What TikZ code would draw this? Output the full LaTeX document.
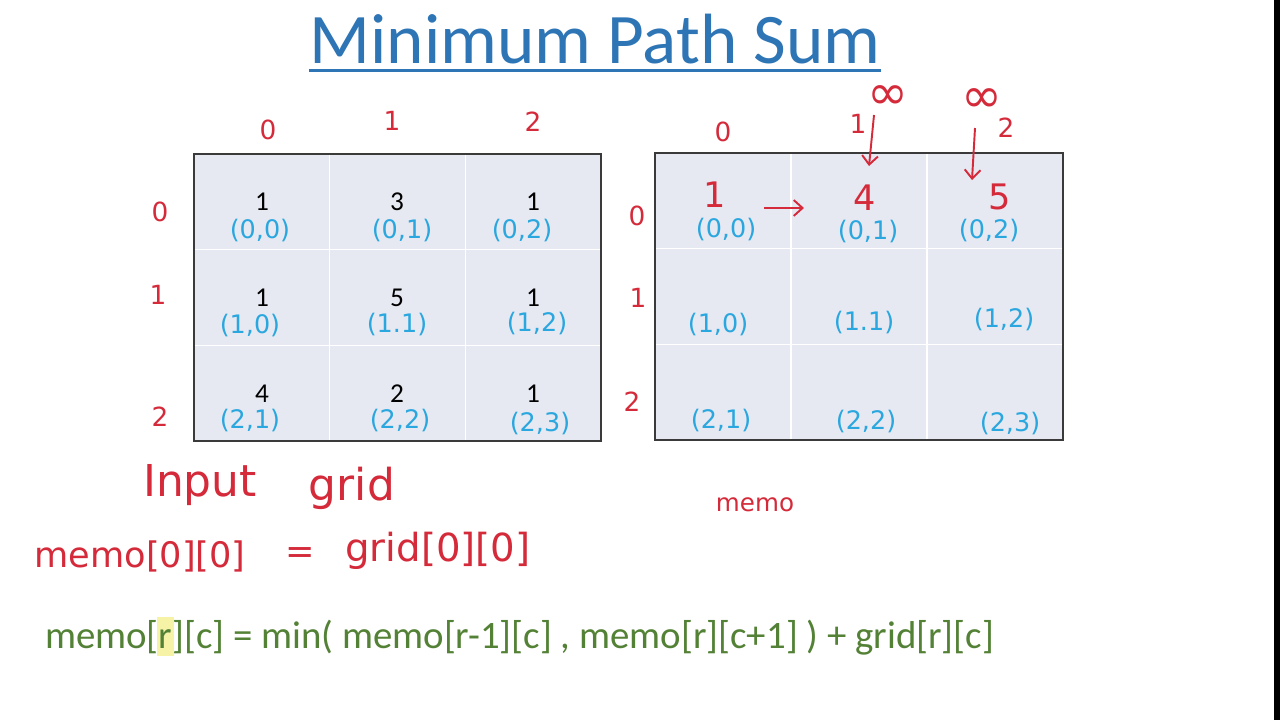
\documentclass[tikz,border=0pt]{standalone}
\usepackage{fontspec}
\setmainfont{Carlito}
\newfontfamily\hand{DejaVu Sans}
\usetikzlibrary{arrows.meta,backgrounds,calc}
\definecolor{titleblue}{HTML}{2E75B6}
\definecolor{hred}{HTML}{D42A3A}
\definecolor{hblue}{HTML}{2AA7DF}
\definecolor{fgreen}{HTML}{538135}
\definecolor{cellbg}{HTML}{E6E8F2}
\definecolor{framegray}{HTML}{3A3A3A}
\definecolor{hlyellow}{HTML}{F6F2A6}
\begin{document}
\begin{tikzpicture}[x=0.02cm,y=-0.02cm,
  cellL/.style={draw=white, line width=0.7pt, fill=cellbg, minimum width=2.713cm, minimum height=1.913cm, inner sep=0pt, outer sep=0pt},
  cellR/.style={cellL, minimum width=2.72cm},
  framebox/.style={draw=framegray, line width=1.1pt},
  gnum/.style={font=\fontsize{15.5}{18}\selectfont, text=black, inner sep=0pt},
  rclab/.style={font=\hand\fontsize{15}{18}\selectfont, text=hred, inner sep=0pt},
  crd/.style={font=\hand\fontsize{14.5}{17}\selectfont, text=hblue, inner sep=0pt},
  memoval/.style={font=\hand\fontsize{20}{24}\selectfont, text=hred, inner sep=0pt},
  handred/.style={font=\hand\fontsize{#1}{#1}\selectfont, text=hred, inner sep=0pt},
  harrow/.style={draw=hred, line width=1.1pt, -{Straight Barb[length=5pt,width=9pt]}},
  formula/.style={font=\fontsize{22.1}{26}\selectfont, text=fgreen, inner sep=0pt, outer sep=0pt, anchor=base west}
]
\begin{scope}[on background layer]
\fill[white] (0,0) rectangle (1280,720);
\end{scope}
\useasboundingbox (0,0) rectangle (1280,720);
\fill[black] (1274,0) rectangle (1280,720);

% title
\node[font=\fontsize{40.5}{48}\selectfont, text=titleblue, anchor=base, inner sep=0pt] (title) at (595,63) {Minimum Path Sum};
\draw[titleblue, line width=1.7pt] ($(title.base west)+(0,7.5)$) -- ($(title.base east)+(0,7.5)$);

% left grid
\foreach \r in {0,1,2}{
  \foreach \c in {0,1,2}{
    \node[cellL] (L\r\c) at ({261.83+135.67*\c},{201.83+95.67*\r}) {};
  }
}
\draw[framebox] (L00.north west) rectangle (L22.south east);

% right grid
\foreach \r in {0,1,2}{
  \foreach \c in {0,1,2}{
    \node[cellR] (R\r\c) at ({723+136*\c},{200.83+95.67*\r}) {};
  }
}
\draw[framebox] (R00.north west) rectangle (R22.south east);

% left grid numbers
\node[gnum] (n00) at (262,202) {1};
\node[gnum] (n01) at (397,202) {3};
\node[gnum] (n02) at (533,202) {1};
\node[gnum] (n10) at (262,298) {1};
\node[gnum] (n11) at (397,298) {5};
\node[gnum] (n12) at (533,298) {1};
\node[gnum] (n20) at (262,394) {4};
\node[gnum] (n21) at (397,394) {2};
\node[gnum] (n22) at (533,394) {1};

% left grid coordinates
\node[crd] (lc00) at (260,231) {(0,0)};
\node[crd] (lc01) at (402,231) {(0,1)};
\node[crd] (lc02) at (522,231) {(0,2)};
\node[crd] (lc10) at (250,326) {(1,0)};
\node[crd] (lc11) at (397,325) {(1.1)};
\node[crd] (lc12) at (537,324) {(1,2)};
\node[crd] (lc20) at (250,421) {(2,1)};
\node[crd] (lc21) at (400,421) {(2,2)};
\node[crd] (lc22) at (540,424) {(2,3)};

% left headers
\node[rclab] (lh0) at (268,130) {0};
\node[rclab] (lh1) at (392,121) {1};
\node[rclab] (lh2) at (533,122) {2};
\node[rclab] (lr0) at (160,212) {0};
\node[rclab] (lr1) at (158,295) {1};
\node[rclab] (lr2) at (160,417) {2};

% right grid coordinates
\node[crd] (rc00) at (726,230) {(0,0)};
\node[crd] (rc01) at (868,232) {(0,1)};
\node[crd] (rc02) at (989,231) {(0,2)};
\node[crd] (rc10) at (718,325) {(1,0)};
\node[crd] (rc11) at (864,323) {(1.1)};
\node[crd] (rc12) at (1004,320) {(1,2)};
\node[crd] (rc20) at (721,421) {(2,1)};
\node[crd] (rc21) at (866,422) {(2,2)};
\node[crd] (rc22) at (1010,424) {(2,3)};

% right headers
\node[rclab] (rh0) at (723,132) {0};
\node[rclab] (rh1) at (858,124) {1};
\node[rclab] (rh2) at (1006,128) {2};
\node[rclab] (rr0) at (637,216) {0};
\node[rclab] (rr1) at (638,298) {1};
\node[rclab] (rr2) at (632,402) {2};

% infinities
\node[handred=28] (inf1) at (888,98) {∞};
\node[handred=28] (inf2) at (982,101) {∞};

% memo values
\node[memoval] (m00) at (715,195) {1};
\node[memoval] (m01) at (865,198) {4};
\node[memoval] (m02) at (1000,197) {5};

% arrows
\coordinate (a1s) at (874,115);
\coordinate (a1e) at (869,166);
\coordinate (a2s) at (975,128);
\coordinate (a2e) at (972,180);
\coordinate (a3s) at (764,208);
\coordinate (a3e) at (804,208);
\draw[harrow] (a1s) -- (a1e);
\draw[harrow] (a2s) -- (a2e);
\draw[harrow] (a3s) -- (a3e);

% handwritten notes
\node[handred=25] (inp) at (200,485) {Input};
\node[handred=25] (grd) at (352,488) {grid};
\node[handred=14] (memolab) at (755,505) {memo};
\node[handred=20] (mm) at (140,556) {memo[0][0]};
\node[handred=20] (eq) at (300,556) {=};
\node[handred=22] (gg) at (438,551) {grid[0][0]};

% formula
\node[formula] (f1) at (45,648) {memo[};
\node[formula] (fr) at (f1.base east) {r};
\node[formula] (f2) at (fr.base east) {][c] = min( memo[r-1][c] , memo[r][c+1] ) + grid[r][c]};
\begin{scope}[on background layer]
\fill[hlyellow] ($(fr.base west)+(-2,-31)$) rectangle ($(fr.base east)+(2,8)$);
\end{scope}
\end{tikzpicture}
\end{document}
